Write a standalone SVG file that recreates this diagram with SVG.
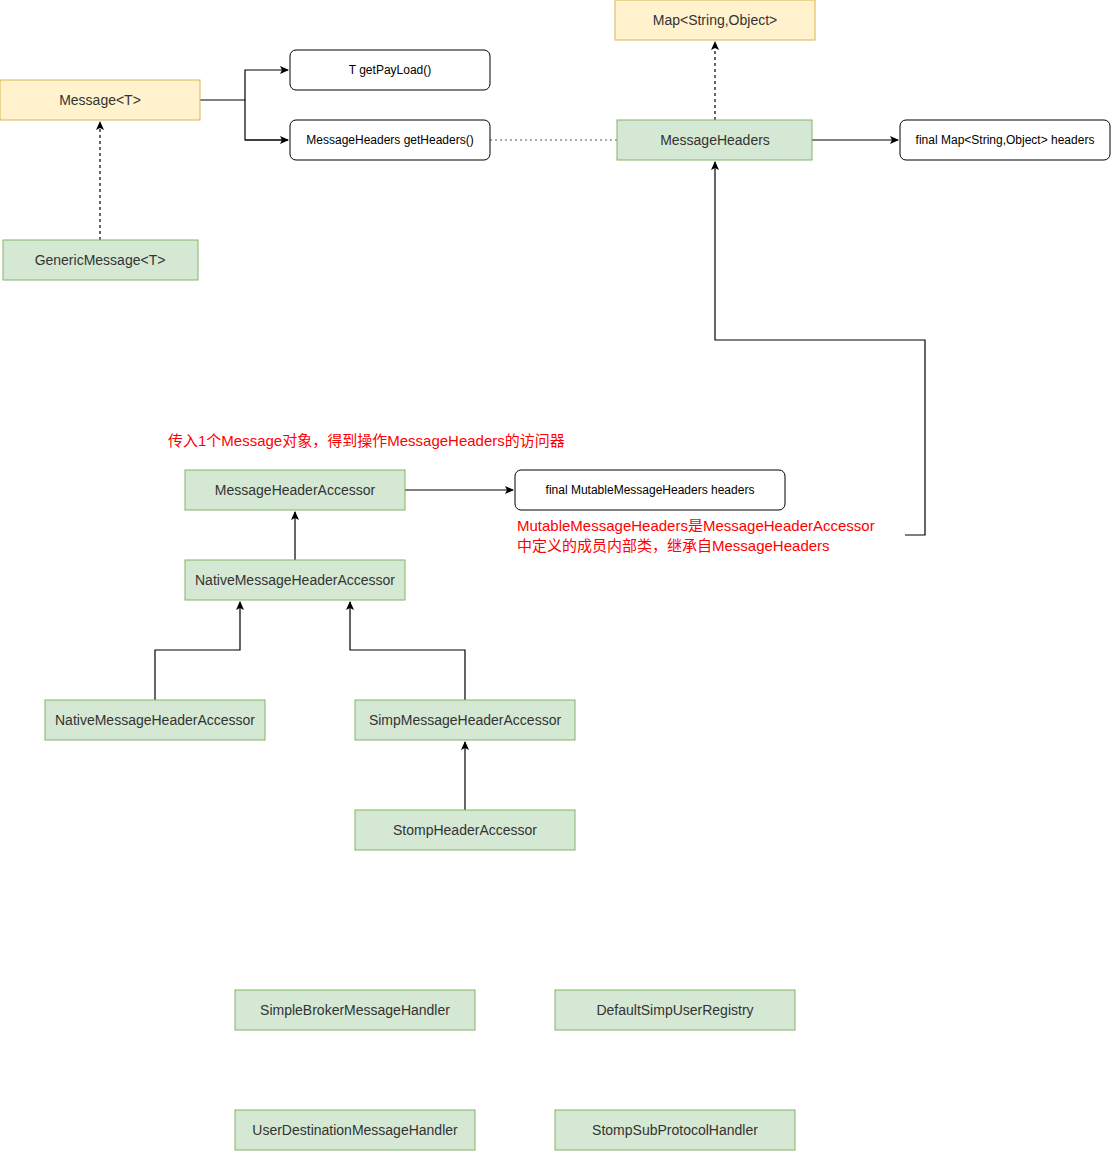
<svg xmlns="http://www.w3.org/2000/svg" width="1112" height="1154" viewBox="0 0 1112 1154">
<defs>
<marker id="a" markerWidth="10" markerHeight="10" refX="8" refY="5" orient="auto" markerUnits="userSpaceOnUse"><path d="M0,1 L9,5 L0,9 L2,5 Z" fill="#000"/></marker>
<style>
.y{fill:#fff2cc;stroke:#d6b656}
.g{fill:#d5e8d4;stroke:#82b366}
.w{fill:#fff;stroke:#000}
text{font-family:Arial,"Liberation Sans","Noto Sans CJK SC",sans-serif;font-size:14px;fill:#333;text-anchor:middle;dominant-baseline:central}
.s{font-size:12px;fill:#000}
.r{fill:#ff0000;text-anchor:start;font-size:15px}
.c{fill:none;stroke:#000;stroke-width:1.2}
</style>
</defs>
<rect width="1112" height="1154" fill="#fff"/>
<g id="connectors">
<path class="c" d="M200,100 H245 V70 H288" marker-end="url(#a)"/>
<path class="c" d="M245,100 V140 H288"/>
<path class="c" d="M245,140 H288" marker-end="url(#a)"/>
<path class="c" d="M100,240 V122" stroke-dasharray="3,3" marker-end="url(#a)"/>
<path d="M490,140 H617" stroke="#555" stroke-dasharray="2,3" fill="none"/>
<path class="c" d="M715,120 V42" stroke-dasharray="3,3" marker-end="url(#a)"/>
<path class="c" d="M812,140 H898" marker-end="url(#a)"/>
<path class="c" d="M905,535 H925 V340 H715 V162" marker-end="url(#a)"/>
<path class="c" d="M405,490 H513" marker-end="url(#a)"/>
<path class="c" d="M295,560 V512" marker-end="url(#a)"/>
<path class="c" d="M155,700 V650 H240 V602" marker-end="url(#a)"/>
<path class="c" d="M465,700 V650 H350 V602" marker-end="url(#a)"/>
<path class="c" d="M465,810 V742" marker-end="url(#a)"/>
</g>
<g id="message"><rect class="y" x="0" y="80" width="200" height="40"/><text x="100" y="100">Message&lt;T&gt;</text></g>
<g id="getPayload"><rect class="w" x="290" y="50" width="200" height="40" rx="6"/><text class="s" x="390" y="70">T getPayLoad()</text></g>
<g id="getHeaders"><rect class="w" x="290" y="120" width="200" height="40" rx="6"/><text class="s" x="390" y="140">MessageHeaders getHeaders()</text></g>
<g id="genericMessage"><rect class="g" x="3" y="240" width="195" height="40"/><text x="100" y="260">GenericMessage&lt;T&gt;</text></g>
<g id="map"><rect class="y" x="615" y="0" width="200" height="40"/><text x="715" y="20">Map&lt;String,Object&gt;</text></g>
<g id="messageHeaders"><rect class="g" x="617" y="120" width="195" height="40"/><text x="715" y="140">MessageHeaders</text></g>
<g id="finalMap"><rect class="w" x="900" y="120" width="210" height="40" rx="6"/><text class="s" x="1005" y="140">final Map&lt;String,Object&gt; headers</text></g>
<g id="note1"><text class="r" x="168" y="440">传入1个Message对象，得到操作MessageHeaders的访问器</text></g>
<g id="messageHeaderAccessor"><rect class="g" x="185" y="470" width="220" height="40"/><text x="295" y="490">MessageHeaderAccessor</text></g>
<g id="mutable"><rect class="w" x="515" y="470" width="270" height="40" rx="6"/><text class="s" x="650" y="490">final MutableMessageHeaders headers</text></g>
<g id="note2"><text class="r" x="517" y="525">MutableMessageHeaders是MessageHeaderAccessor</text><text class="r" x="517" y="545">中定义的成员内部类，继承自MessageHeaders</text></g>
<g id="nativeAccessor"><rect class="g" x="185" y="560" width="220" height="40"/><text x="295" y="580">NativeMessageHeaderAccessor</text></g>
<g id="nativeAccessor2"><rect class="g" x="45" y="700" width="220" height="40"/><text x="155" y="720">NativeMessageHeaderAccessor</text></g>
<g id="simpAccessor"><rect class="g" x="355" y="700" width="220" height="40"/><text x="465" y="720">SimpMessageHeaderAccessor</text></g>
<g id="stompAccessor"><rect class="g" x="355" y="810" width="220" height="40"/><text x="465" y="830">StompHeaderAccessor</text></g>
<g id="simpleBroker"><rect class="g" x="235" y="990" width="240" height="40"/><text x="355" y="1010">SimpleBrokerMessageHandler</text></g>
<g id="defaultSimp"><rect class="g" x="555" y="990" width="240" height="40"/><text x="675" y="1010">DefaultSimpUserRegistry</text></g>
<g id="userDest"><rect class="g" x="235" y="1110" width="240" height="40"/><text x="355" y="1130">UserDestinationMessageHandler</text></g>
<g id="stompSub"><rect class="g" x="555" y="1110" width="240" height="40"/><text x="675" y="1130">StompSubProtocolHandler</text></g>
</svg>
